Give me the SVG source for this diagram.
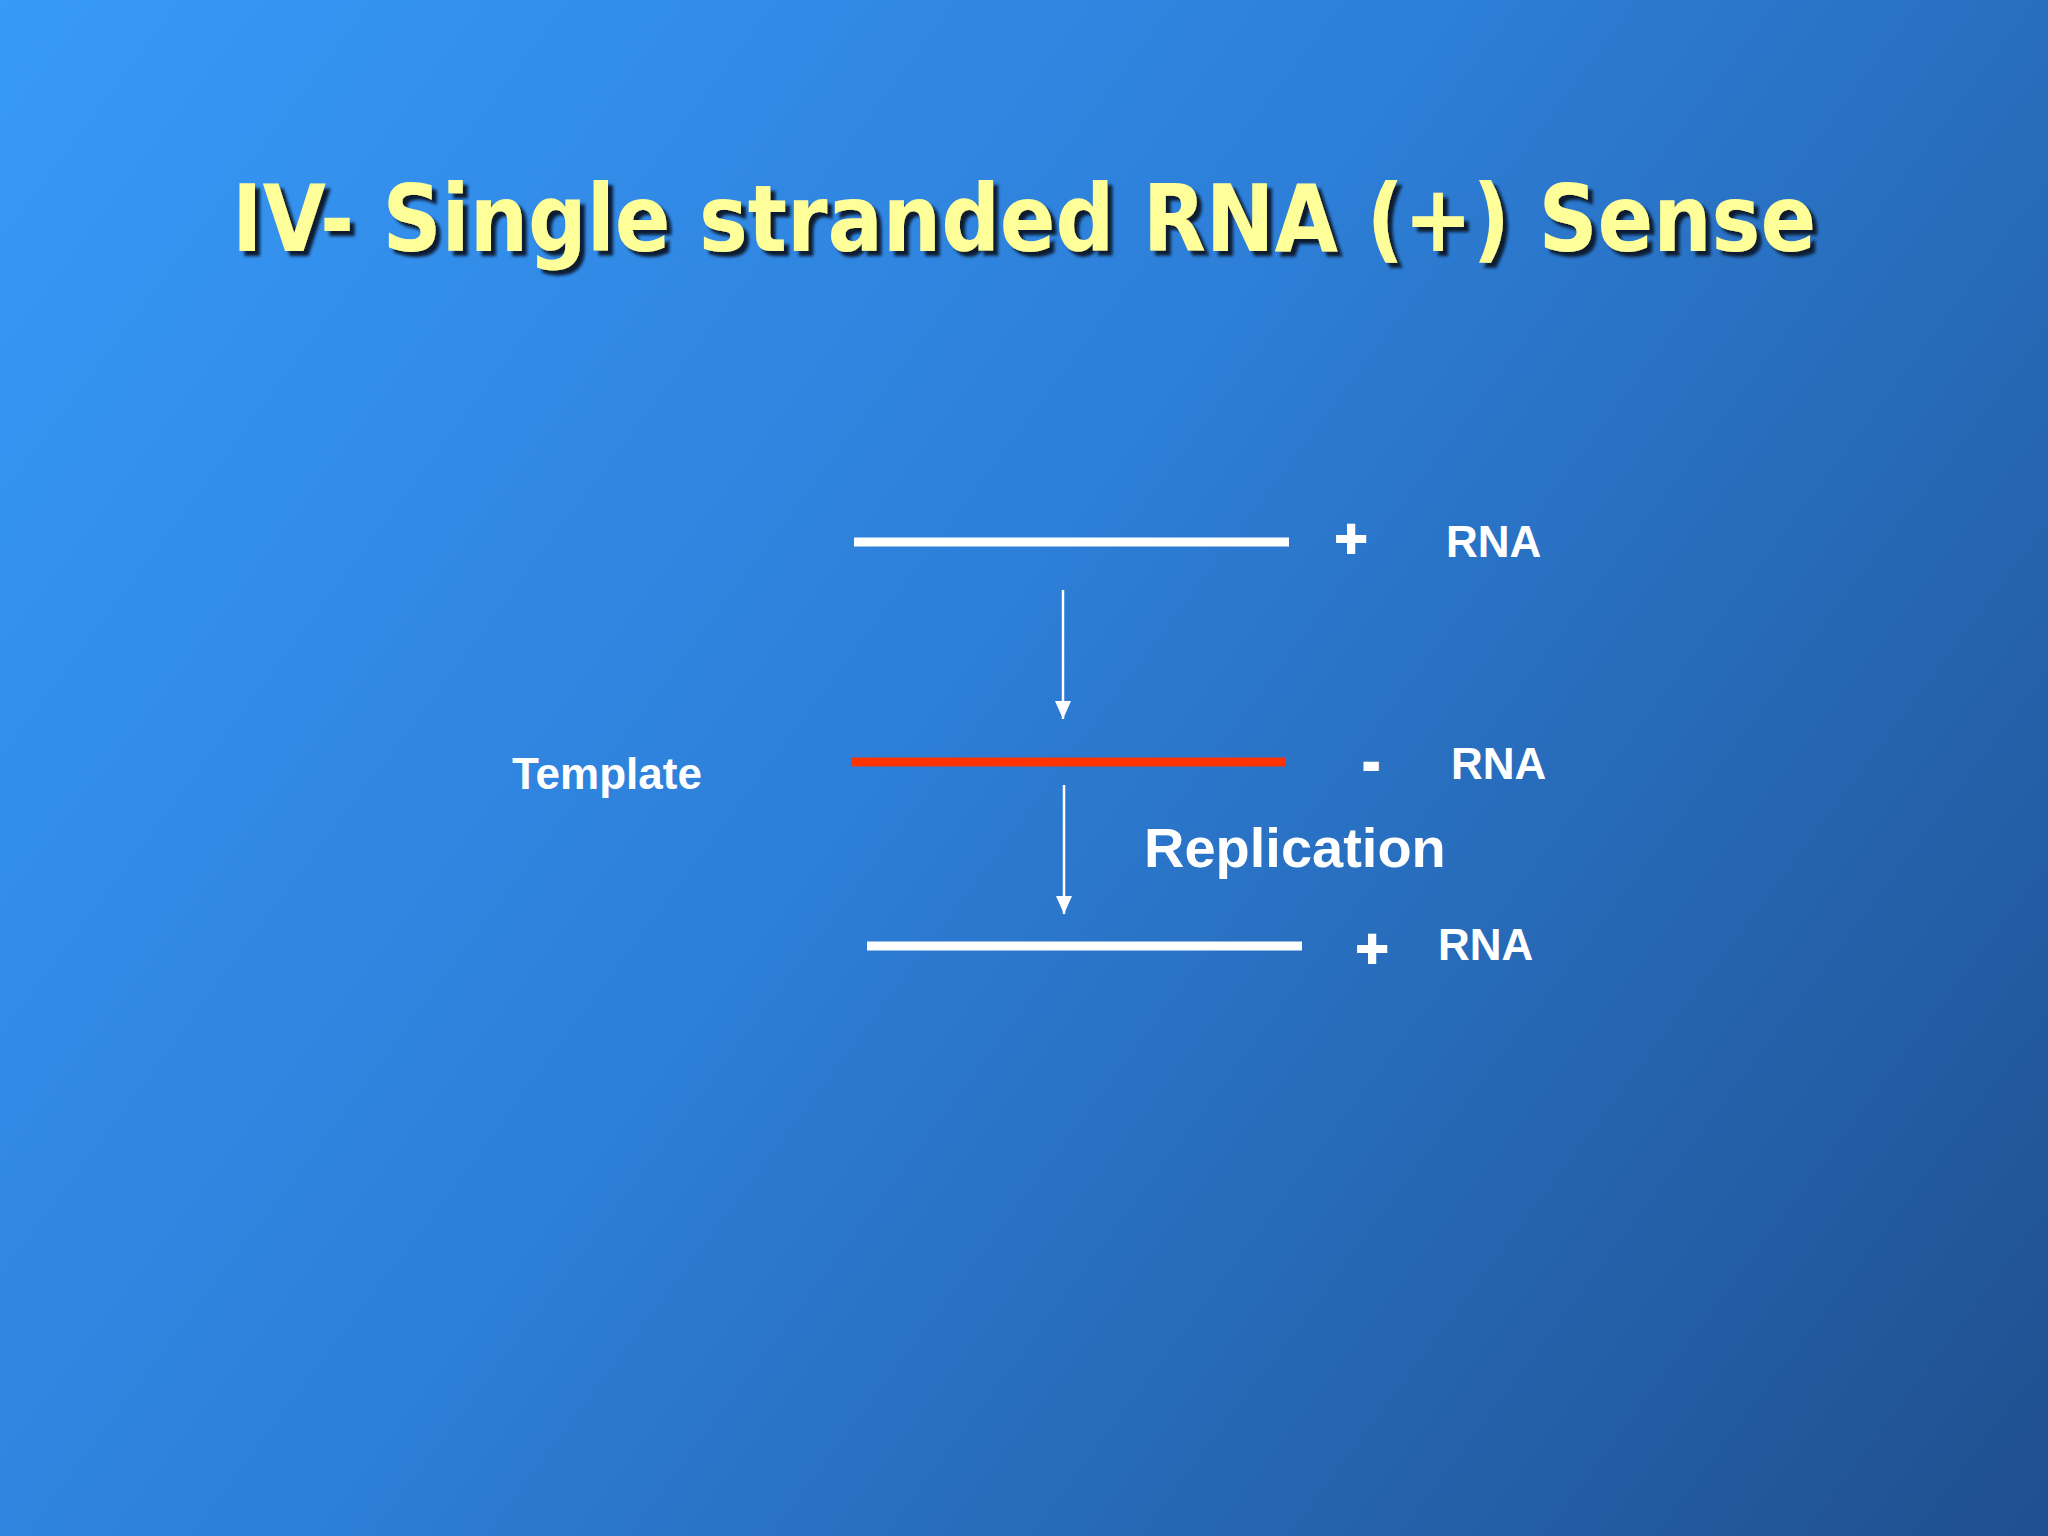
<svg xmlns="http://www.w3.org/2000/svg" width="2048" height="1536" viewBox="0 0 2048 1536">
<defs>
<linearGradient id="bg" gradientUnits="userSpaceOnUse" x1="0" y1="0" x2="2048" y2="1536">
<stop offset="0" stop-color="#3799F8"/>
<stop offset="0.45" stop-color="#2D7FD8"/>
<stop offset="1" stop-color="#1F4F8E"/>
</linearGradient>
<filter id="shadow" x="-5%" y="-20%" width="110%" height="150%">
<feDropShadow dx="5" dy="5" stdDeviation="1.5" flood-color="#0a1a30" flood-opacity="1"/>
</filter>
<marker id="ah" viewBox="0 0 18 16" refX="18" refY="8" markerWidth="18" markerHeight="16" markerUnits="userSpaceOnUse" orient="auto">
<path d="M0,0 L18,8 L0,16 Z" fill="#ffffff"/>
</marker>
<style>
.lbl{font-family:"Liberation Sans",Arial,sans-serif;font-weight:bold;fill:#ffffff;}
.title{font-family:"Comic Sans MS","DejaVu Sans",sans-serif;font-weight:bold;font-size:92px;fill:#FFFF99;}
.strand{stroke-width:9;}
.conn{stroke:#ffffff;stroke-width:2.5;fill:none;}
</style>
</defs>
<rect x="0" y="0" width="2048" height="1536" fill="url(#bg)"/>
<g id="title">
<text class="title" x="232" y="251" filter="url(#shadow)" textLength="1584" lengthAdjust="spacingAndGlyphs">IV- Single stranded RNA (+) Sense</text>
</g>
<g id="plus-rna-top">
<line class="strand" x1="854" y1="542" x2="1289" y2="542" stroke="#ffffff"/>
<text class="lbl" x="1351" y="557" font-size="56" text-anchor="middle" stroke="#ffffff" stroke-width="2">+</text>
<text class="lbl" x="1446" y="557" font-size="44">RNA</text>
</g>
<g id="minus-rna">
<line class="strand" x1="851" y1="762" x2="1286" y2="762" stroke="#FF3300"/>
<text class="lbl" x="1371" y="778" font-size="44" text-anchor="middle" stroke="#ffffff" stroke-width="4">-</text>
<text class="lbl" x="1451" y="779" font-size="44">RNA</text>
</g>
<g id="template-label">
<text class="lbl" x="512" y="789" font-size="44">Template</text>
</g>
<g id="replication-label">
<text class="lbl" x="1144" y="867" font-size="56">Replication</text>
</g>
<g id="plus-rna-bottom">
<line class="strand" x1="867" y1="946" x2="1302" y2="946" stroke="#ffffff"/>
<text class="lbl" x="1372" y="967" font-size="56" text-anchor="middle" stroke="#ffffff" stroke-width="2">+</text>
<text class="lbl" x="1438" y="960" font-size="44">RNA</text>
</g>
<g id="connectors">
<line class="conn" x1="1063" y1="590" x2="1063" y2="719" marker-end="url(#ah)"/>
<line class="conn" x1="1064" y1="785" x2="1064" y2="914" marker-end="url(#ah)"/>
</g>
</svg>
